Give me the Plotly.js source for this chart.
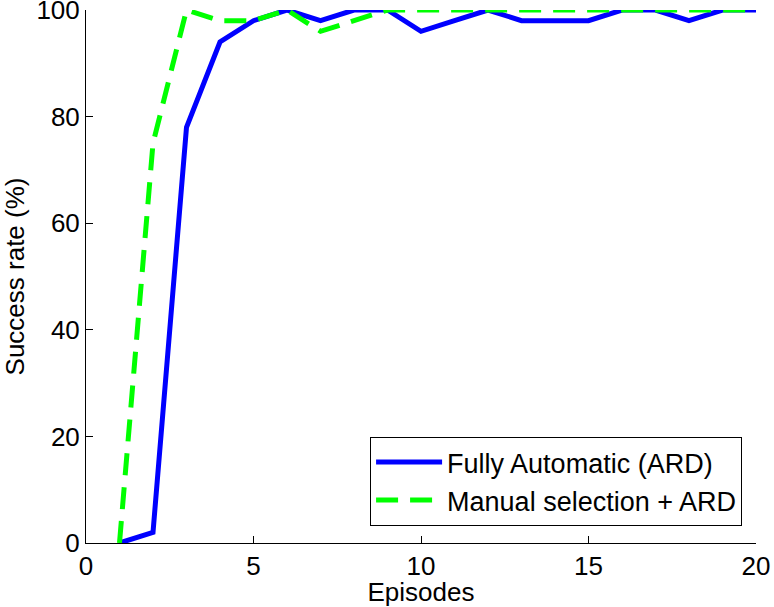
<!DOCTYPE html>
<html>
<head>
<meta charset="utf-8">
<script src="https://cdn.plot.ly/plotly-3.0.1.min.js"></script>
<style>html,body{margin:0;padding:0;background:#fff;}#chart{width:774px;height:607px;}</style>
</head>
<body>
<div id="chart"></div>
<script>
const episodes = [1,2,3,4,5,6,7,8,9,10,11,12,13,14,15,16,17,18,19,20];
const fullyAutomatic = [0,2,78,94,98,100,98,100,100,96,98,100,98,98,98,100,100,98,100,100];
const manualSelection = [0,75,100,98,98,100,96,98,100,100,100,100,100,100,100,100,100,100,100,100];
const seriesNames = ["Fully Automatic (ARD)", "Manual selection + ARD"];
const xTicks = [0,5,10,15,20];
const yTicks = [0,20,40,60,80,100];

const FONT = "Liberation Sans, Arial, Helvetica, sans-serif";

const traces = [
  {x: episodes, y: fullyAutomatic, name: seriesNames[0], mode: "lines",
   line: {color: "rgb(0,0,255)", width: 5}, cliponaxis: false},
  {x: episodes, y: manualSelection, name: seriesNames[1], mode: "lines",
   line: {color: "rgb(0,255,0)", width: 5, dash: "22px,12px"}, cliponaxis: false}
];

const layout = {
  width: 774, height: 607,
  margin: {l: 86, r: 18, t: 10, b: 64},
  paper_bgcolor: "#fff", plot_bgcolor: "#fff",
  font: {family: FONT, size: 26, color: "#000"},
  showlegend: true,
  legend: {
    x: 0.424, y: 0.032, xanchor: "left", yanchor: "bottom",
    bordercolor: "#000", borderwidth: 1, bgcolor: "#fff",
    font: {family: FONT, size: 27, color: "#000"},
    itemwidth: 66, tracegroupgap: 0
  },
  xaxis: {
    range: [0, 20], tickvals: xTicks, ticktext: xTicks.map(String),
    showgrid: false, zeroline: false, showline: true, linecolor: "#000", linewidth: 1,
    ticks: "inside", ticklen: 7, tickcolor: "#000", tickwidth: 1,
    tickfont: {family: FONT, size: 26, color: "#000"},
    ticklabeloverflow: "allow",
    title: {text: "Episodes", font: {family: FONT, size: 26, color: "#000"}, standoff: 6},
    fixedrange: true
  },
  yaxis: {
    range: [0, 100], tickvals: yTicks, ticktext: yTicks.map(String),
    showgrid: false, zeroline: false, showline: true, linecolor: "#000", linewidth: 1,
    ticks: "inside", ticklen: 7, tickcolor: "#000", tickwidth: 1,
    tickfont: {family: FONT, size: 26, color: "#000"},
    ticklabeloverflow: "allow",
    title: {text: "Success rate (%)", font: {family: FONT, size: 26, color: "#000"}, standoff: 18},
    fixedrange: true
  }
};

Plotly.newPlot("chart", traces, layout, {displayModeBar: false, staticPlot: true});
</script>
</body>
</html>
